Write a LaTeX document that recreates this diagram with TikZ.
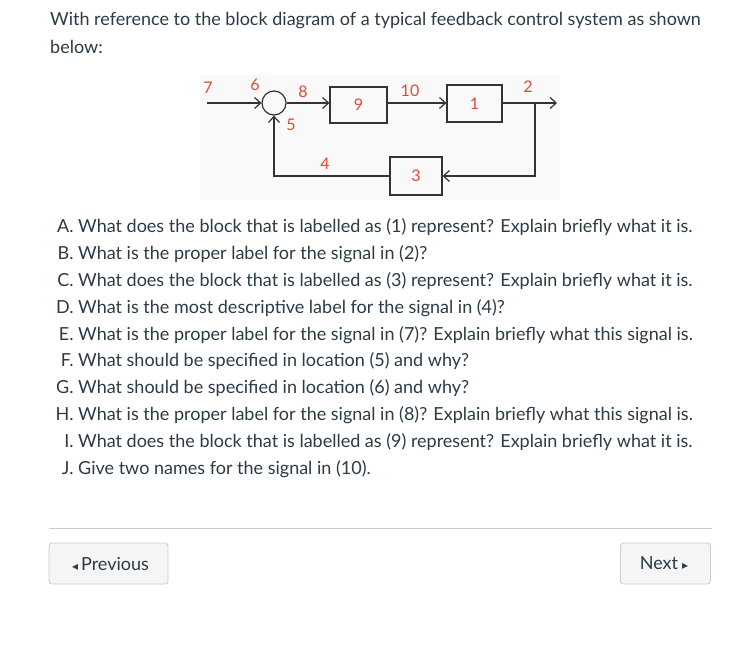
\documentclass[tikz,border=0pt]{standalone}
\usepackage{fontspec}
\setmainfont{Lato}
\newfontfamily\symfont{DejaVu Sans}
\usetikzlibrary{arrows.meta}
\definecolor{qtext}{HTML}{2D3B45}
\definecolor{hand}{HTML}{E5473D}
\definecolor{ink}{HTML}{333333}
\definecolor{btnfill}{HTML}{F5F5F5}
\definecolor{btnline}{HTML}{C7CDD1}
\definecolor{sketchbg}{HTML}{F9F9F9}

\begin{document}
\begin{tikzpicture}[x=1pt, y=-1pt, text=qtext,
    font=\fontsize{18}{20}\selectfont,
    blk/.style={draw=ink, line width=1.2pt, inner sep=0pt, text=hand},
    lbl/.style={text=hand, font=\fontsize{16}{16}\selectfont},
    sig/.style={draw=ink, line width=1.2pt, -{Straight Barb[length=6pt, width=11pt]}},
    qline/.style={anchor=base west, inner sep=0pt},
    btn/.style={draw=btnline, fill=btnfill, rounded corners=3pt, line width=0.8pt, inner sep=0pt}]
    \useasboundingbox (0,0) rectangle (729,646);
    \fill[white] (0,0) rectangle (729,646);

    % heading
    \node[qline] (head1) at (50,25.7) {With reference to the block diagram of a typical feedback control system as shown};
    \node[qline] (head2) at (50,53) {below:};

    % sketch of the loop
    \fill[sketchbg] (200,75) rectangle (560,200);
    \node[circle, draw=ink, line width=1.2pt, minimum size=24pt, inner sep=0pt] (sum) at (274,103) {};
    \node[blk, minimum width=57pt, minimum height=36pt] (b9) at (358.5,105) {\fontsize{16}{16}\selectfont 9};
    \node[blk, minimum width=55pt, minimum height=37pt] (b1) at (474.5,103.5) {\fontsize{16}{16}\selectfont 1};
    \node[blk, minimum width=52pt, minimum height=38pt] (b3) at (416,176) {\fontsize{16}{16}\selectfont 3};
    \coordinate (in) at (207,103);
    \coordinate (out) at (557,103);
    \coordinate (br) at (535,103);

    \draw[sig] (in) -- (sum.west);
    \draw[sig] (sum.east) -- (b9.west |- sum.east);
    \draw[sig] (b9.east |- sum.east) -- (b1.west |- sum.east);
    \draw[sig] (b1.east |- sum.east) -- (out);
    \draw[sig] (br) |- (b3.east);
    \draw[sig] (b3.west) -| (sum.south);

    \node[lbl] (l7) at (208,88) {7};
    \node[lbl] (l6) at (255,85) {6};
    \node[lbl] (l8) at (303,92) {8};
    \node[lbl] (l5) at (291,125) {5};
    \node[lbl] (l10) at (410,91) {10};
    \node[lbl] (l2) at (528,87) {2};
    \node[lbl] (l4) at (325,164) {4};

    % questions
    \node[qline] (qa) at (78,232.8) {\llap{A.\ }What does the block that is labelled as (1) represent? Explain briefly what it is.};
    \node[qline] (qb) at (78,259.6) {\llap{B.\ }What is the proper label for the signal in (2)?};
    \node[qline] (qc) at (78,286.4) {\llap{C.\ }What does the block that is labelled as (3) represent? Explain briefly what it is.};
    \node[qline] (qd) at (78,313.2) {\llap{D.\ }What is the most descriptive label for the signal in (4)?};
    \node[qline] (qe) at (78,340) {\llap{E.\ }What is the proper label for the signal in (7)? Explain briefly what this signal is.};
    \node[qline] (qf) at (78,366.8) {\llap{F.\ }What should be specified in location (5) and why?};
    \node[qline] (qg) at (78,393.6) {\llap{G.\ }What should be specified in location (6) and why?};
    \node[qline] (qh) at (78,420.4) {\llap{H.\ }What is the proper label for the signal in (8)? Explain briefly what this signal is.};
    \node[qline] (qi) at (78,447.2) {\llap{I.\ }What does the block that is labelled as (9) represent? Explain briefly what it is.};
    \node[qline] (qj) at (78,474) {\llap{J.\ }Give two names for the signal in (10).};

    % navigation
    \draw[btnline, line width=1pt] (49,528.5) -- (712,528.5);
    \node[btn, minimum width=119pt, minimum height=41pt] (prev) at (108.5,563.5)
        {\hspace{4pt}{\symfont\fontsize{12}{12}\selectfont ◂}\hspace{3pt}Previous};
    \node[btn, minimum width=90pt, minimum height=41pt] (next) at (665.5,563.5)
        {\hspace{-3pt}Next\hspace{4pt}{\symfont\fontsize{12}{12}\selectfont ▸}};
\end{tikzpicture}
\end{document}
